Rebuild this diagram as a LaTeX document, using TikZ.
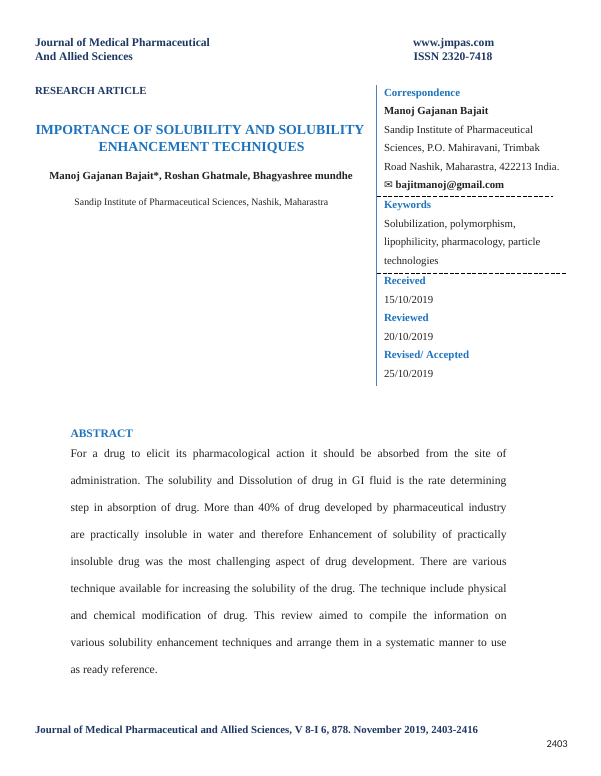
\documentclass[tikz,border=0pt]{standalone}
\usepackage{fontspec}
\setmainfont{Liberation Serif}
\newfontfamily\symfont{DejaVu Sans}
\newfontfamily\pagefont{Carlito}
\usetikzlibrary{positioning}

\definecolor{navy}{RGB}{31,56,100}
\definecolor{headblue}{RGB}{30,115,190}
\definecolor{ruleblue}{RGB}{79,129,189}
\definecolor{bodytext}{RGB}{35,35,35}

\tikzset{
  txt/.style={anchor=base west,inner sep=0pt,outer sep=0pt,text=bodytext},
  journal/.style={txt,text=navy,font=\fontsize{11.6}{14}\selectfont\bfseries},
  titleline/.style={anchor=base,inner sep=0pt,text=headblue,font=\fontsize{13.8}{16}\selectfont\bfseries},
  sidehead/.style={txt,text=headblue,font=\fontsize{10.9}{13}\selectfont\bfseries},
  sidetext/.style={txt,font=\fontsize{10.8}{13}\selectfont},
  absline/.style={txt,font=\fontsize{11.6}{14}\selectfont}
}
\tikzset{cut/.style={black,line width=0.8pt,dash pattern=on 4pt off 1.6pt}}

\frenchspacing

\begin{document}
\begin{tikzpicture}[x=1pt,y=-1pt]
\useasboundingbox[fill=white] (0,0) rectangle (600,776);

% header
\node[journal] (jname1) at (35,46.5) {Journal of Medical Pharmaceutical};
\node[journal] (jname2) at (35,60) {And Allied Sciences};
\node[journal] (web) at (413,46.5) {www.jmpas.com};
\node[journal] (issn) at (413.5,60) {ISSN 2320-7418};

\node[journal,font=\fontsize{10.8}{13}\selectfont\bfseries] (kind) at (35,94) {RESEARCH ARTICLE};

% title block
\node[titleline] (title1) at (200,134.5) {IMPORTANCE OF SOLUBILITY AND SOLUBILITY};
\node[titleline] (title2) at (201.5,151.5) {ENHANCEMENT TECHNIQUES};
\node[anchor=base,inner sep=0pt,text=bodytext,font=\fontsize{10.8}{13}\selectfont\bfseries]
  (authors) at (201,179) {Manoj Gajanan Bajait*, Roshan Ghatmale, Bhagyashree mundhe};
\node[anchor=base,inner sep=0pt,text=bodytext,font=\fontsize{9.8}{12}\selectfont]
  (affil) at (201.3,205) {Sandip Institute of Pharmaceutical Sciences, Nashik, Maharastra};

% side column
\coordinate (bartop) at (376.5,85);
\coordinate (barbot) at (376.5,386);
\draw[ruleblue,line width=1.4pt] (bartop) -- (barbot);

\node[sidehead] (corr) at (384,96) {Correspondence};
\node[sidetext,font=\fontsize{10.8}{13}\selectfont\bfseries] (cname) at (384,114.5) {Manoj Gajanan Bajait};
\node[sidetext] (addr1) at (384,133) {Sandip Institute of Pharmaceutical};
\node[sidetext] (addr2) at (384,151.5) {Sciences, P.O. Mahiravani, Trimbak};
\node[sidetext] (addr3) at (384,170) {Road Nashik, Maharastra, 422213 India.};
\node[sidetext,font=\fontsize{10.8}{13}\selectfont\bfseries] (mail) at (384,188.5)
  {{\symfont\fontsize{10.5}{12}\selectfont\mdseries ✉} bajitmanoj@gmail.com};

\coordinate (cut1a) at (377,196.5);
\coordinate (cut1b) at (553,196.5);
\draw[cut] (cut1a) -- (cut1b);

\node[sidehead] (kw) at (384,208) {Keywords};
\node[sidetext] (kw1) at (384,227) {Solubilization, polymorphism,};
\node[sidetext] (kw2) at (384,245.5) {lipophilicity, pharmacology, particle};
\node[sidetext] (kw3) at (384,264) {technologies};

\coordinate (cut2a) at (377,273);
\coordinate (cut2b) at (567,273);
\draw[cut] (cut2a) -- (cut2b);

\node[sidehead] (recv) at (384,284.5) {Received};
\node[sidetext] (recvd) at (384,303) {15/10/2019};
\node[sidehead] (revw) at (384,321.5) {Reviewed};
\node[sidetext] (revwd) at (384,340) {20/10/2019};
\node[sidehead] (acpt) at (384,358.5) {Revised/ Accepted};
\node[sidetext] (acptd) at (384,377) {25/10/2019};

% abstract
\node[txt,text=headblue,font=\fontsize{11.5}{13}\selectfont\bfseries] (abshead) at (70.5,437) {ABSTRACT};
\foreach \line [count=\i] in {
  {For a drug to elicit its pharmacological action it should be absorbed from the site of},
  {administration. The solubility and Dissolution of drug in GI fluid is the rate determining},
  {step in absorption of drug. More than 40\% of drug developed by pharmaceutical industry},
  {are practically insoluble in water and therefore Enhancement of solubility of practically},
  {insoluble drug was the most challenging aspect of drug development. There are various},
  {technique available for increasing the solubility of the drug. The technique include physical},
  {and chemical modification of drug. This review aimed to compile the information on},
  {various solubility enhancement techniques and arrange them in a systematic manner to use}}
  \node[absline] (abs\i) at (70.5,430+27*\i) {\makebox[436pt][s]{\line}};
\node[absline] (abs9) at (70.5,673) {as ready reference.};

% footer
\node[journal,font=\fontsize{10.8}{13}\selectfont\bfseries] (foot) at (35,733.5)
  {Journal of Medical Pharmaceutical and Allied Sciences, V 8-I 6, 878. November 2019, 2403-2416};
\node[anchor=base east,inner sep=0pt,text=bodytext,font=\pagefont\fontsize{10.5}{12}\selectfont] (pageno) at (568,747) {2403};

\end{tikzpicture}
\end{document}
